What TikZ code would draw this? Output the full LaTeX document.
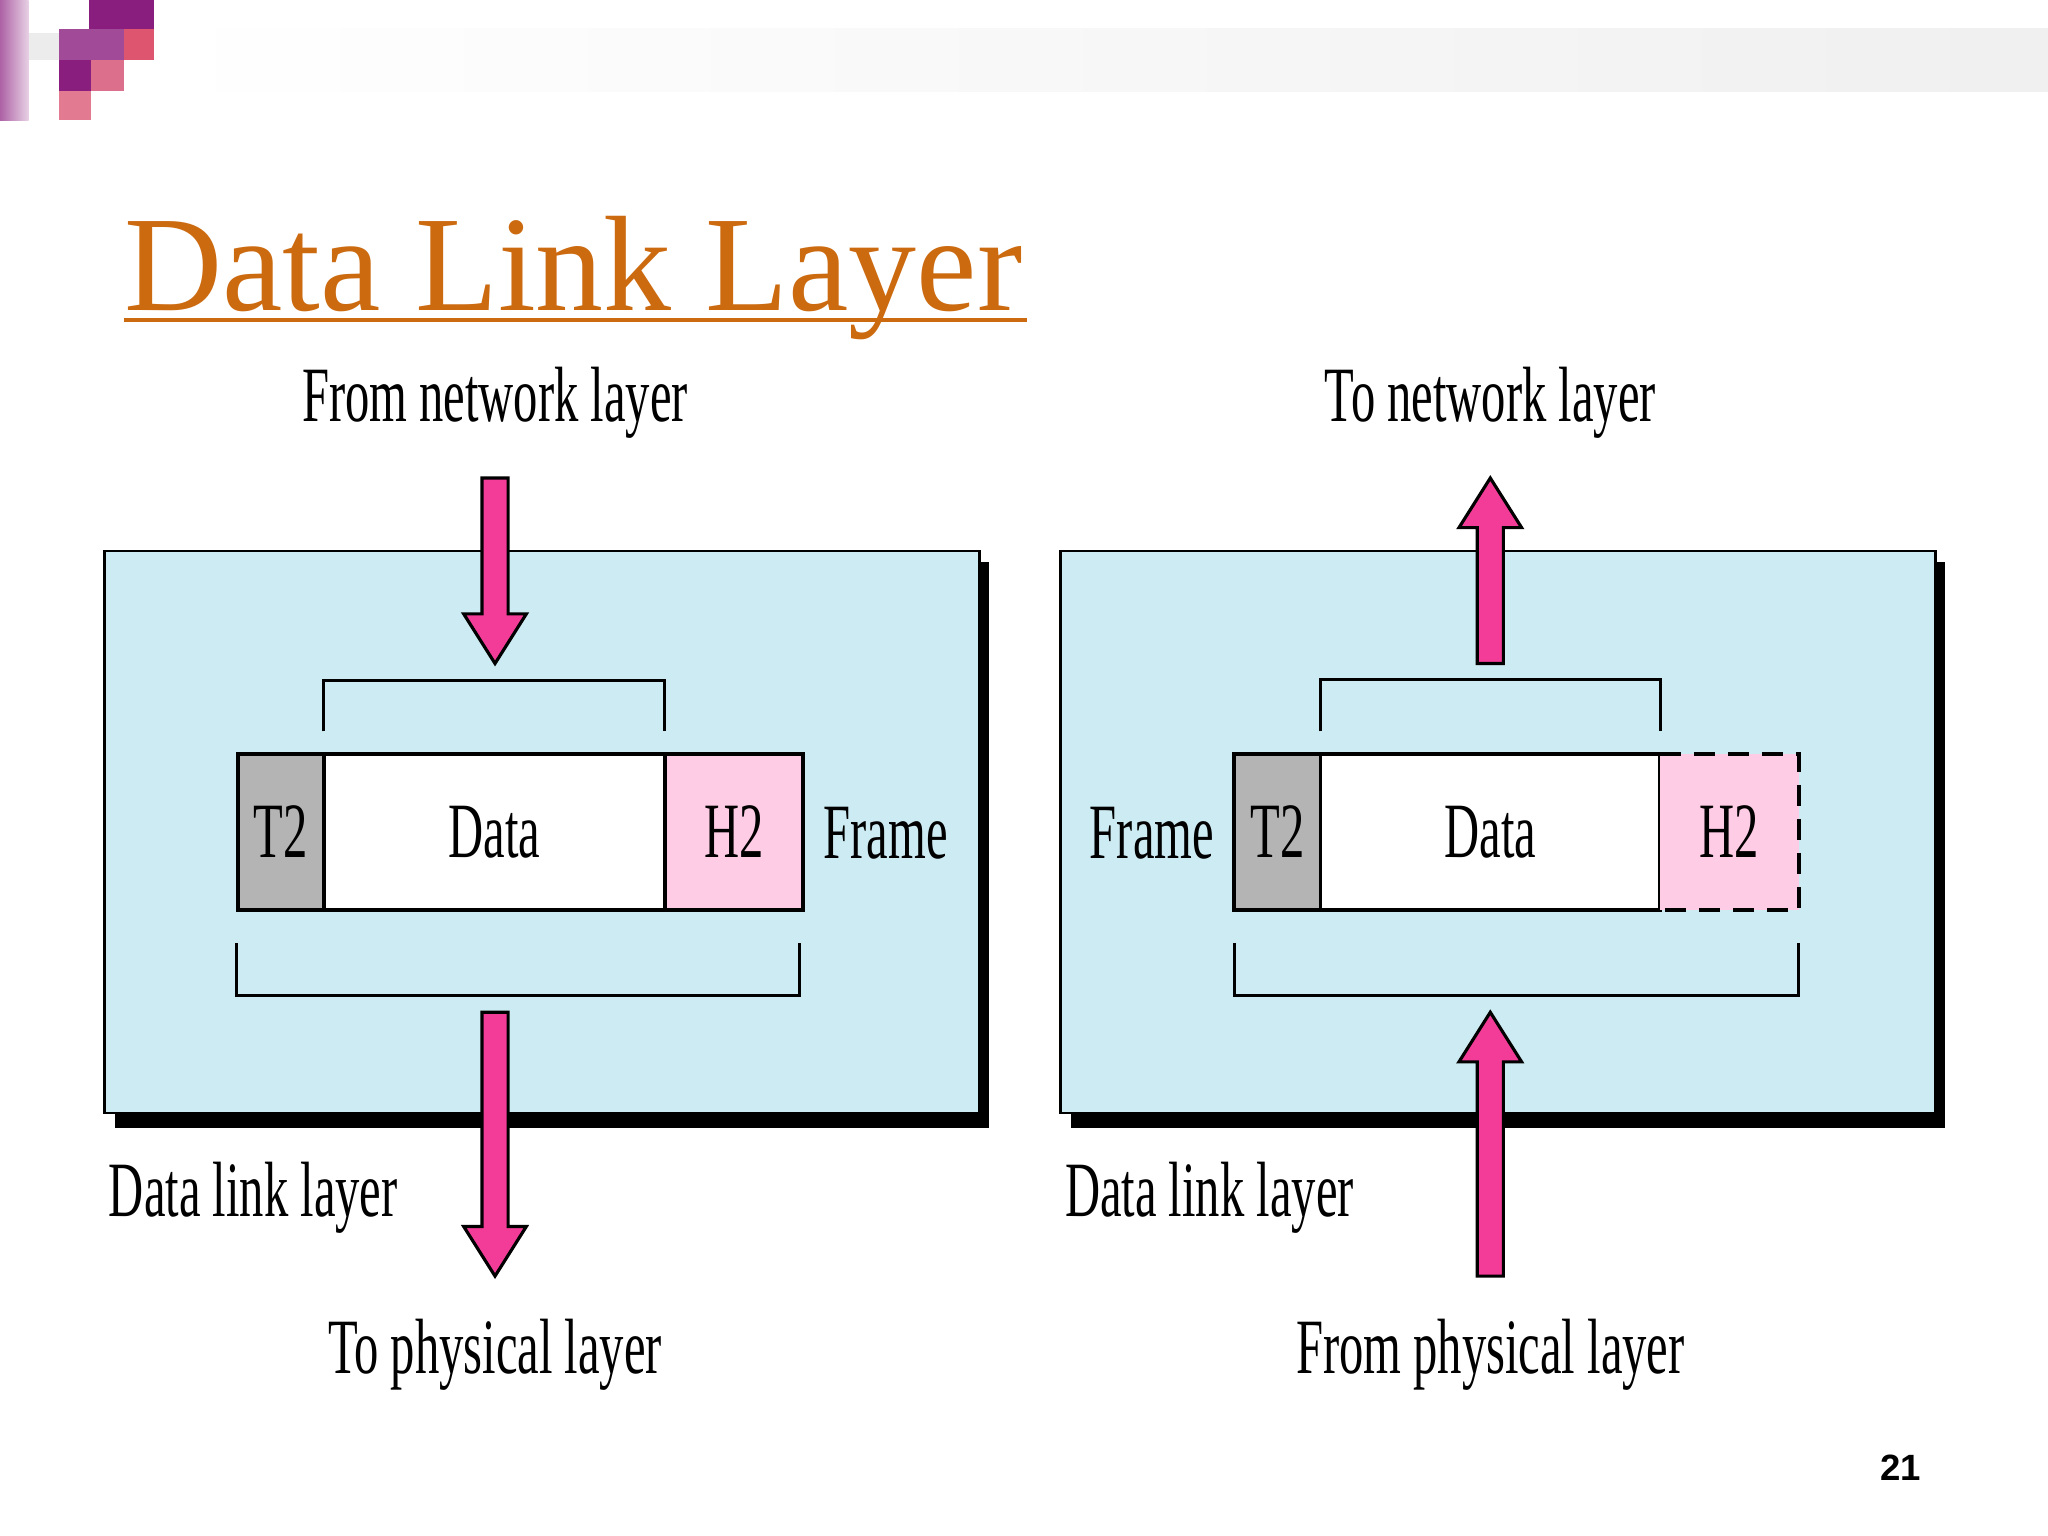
\documentclass[tikz,border=0pt]{standalone}
\usepackage{fontspec}
\setmainfont{Liberation Serif}
\newfontfamily\cond[FakeStretch=0.62]{Liberation Serif}
\newfontfamily\sans{Liberation Sans}
\usetikzlibrary{shadings}
\definecolor{panel}{HTML}{CDEBF2}
\definecolor{pinkb}{HTML}{FFCCE6}
\definecolor{mag}{HTML}{F23C98}
\definecolor{ttl}{HTML}{CC6A10}
\definecolor{grayb}{HTML}{B4B4B4}
\definecolor{purp}{HTML}{8A1E7E}
\begin{document}
\begin{tikzpicture}[x=0.5pt,y=-0.5pt,
  lbl/.style={font=\cond\fontsize{30}{34}\selectfont},
  box/.style={draw=black,line width=1.5pt},
  brk/.style={draw=black,line width=1.2pt},
  arr/.style={fill=mag,draw=black,line width=1.2pt,line join=miter}]
\useasboundingbox (0,0) rectangle (1568,1176);
\fill[white] (0,0) rectangle (1568,1176);
% top decoration
\shade[left color=white,right color=gray!12] (118,22) rectangle (1568,70);
\shade[left color=purp!70,right color=purp!20] (0,0) rectangle (22,92);
\fill[purp] (68,0) rectangle (118,22);
\fill[purp!80] (45,22) rectangle (95,46);
\fill[red!60!purp!70] (95,22) rectangle (118,46);
\fill[purp] (45,46) rectangle (70,70);
\fill[red!50!purp!60] (70,46) rectangle (95,70);
\fill[red!55!purp!55] (45,70) rectangle (70,92);
\fill[gray!15] (22,25) rectangle (45,46);
% title
\node[anchor=base west,text=ttl,font=\fontsize{52}{56}\selectfont,inner sep=0] (title) at (95,238) {Data Link Layer};
\draw[ttl,line width=1.3pt] (95,245) -- (786,245);
% panels
\foreach \ox/\n in {0/L,732/R}{
  \fill[black] (\ox+88,430) rectangle (\ox+757,864);
  \draw[fill=panel,line width=1pt] (\ox+80,422) rectangle (\ox+750,852);
}
% left frame
\node[box,fill=grayb,minimum width=33pt,minimum height=60pt,inner sep=0,lbl] (T2L) at (215,637) {T2};
\node[box,fill=white,minimum width=130.5pt,minimum height=60pt,inner sep=0,lbl] (DL) at (378.5,637) {Data};
\node[box,fill=pinkb,minimum width=53pt,minimum height=60pt,inner sep=0,lbl] (H2L) at (562,637) {H2};
\node[lbl] (FL) at (678,638) {Frame};
\draw[brk] (248,560) -- (248,521) -- (509,521) -- (509,560);
\draw[brk] (181,722) -- (181,762) -- (612,762) -- (612,722);
% right frame
\node[box,fill=grayb,minimum width=33pt,minimum height=60pt,inner sep=0,lbl] (T2R) at (978,637) {T2};
\node[box,fill=white,minimum width=130pt,minimum height=60pt,inner sep=0,lbl] (DR) at (1141,637) {Data};
\node[fill=pinkb,minimum width=53pt,minimum height=60pt,inner sep=0,lbl] (H2R) at (1324,637) {H2};
\draw[dashed,dash pattern=on 8pt off 5pt,line width=1.5pt] (1271,577) -- (1377,577) -- (1377,697) -- (1271,697);
\node[lbl] (FR) at (882,638) {Frame};
\draw[brk] (1011,560) -- (1011,520) -- (1271,520) -- (1271,560);
\draw[brk] (945,722) -- (945,762) -- (1377,762) -- (1377,722);
% arrows
\draw[arr] (369,366) -- (389,366) -- (389,470) -- (403,470) -- (379,508) -- (355,470) -- (369,470) -- cycle;
\draw[arr] (369,775) -- (389,775) -- (389,939) -- (403,939) -- (379,977) -- (355,939) -- (369,939) -- cycle;
\draw[arr] (1131,508) -- (1151,508) -- (1151,404) -- (1165,404) -- (1141,366) -- (1117,404) -- (1131,404) -- cycle;
\draw[arr] (1131,977) -- (1151,977) -- (1151,813) -- (1165,813) -- (1141,775) -- (1117,813) -- (1131,813) -- cycle;
% labels
\node[lbl] (fn) at (379,308) {From network layer};
\node[lbl] (tn) at (1141,308) {To network layer};
\node[lbl,anchor=west,inner sep=0] (dl1) at (83,917) {Data link layer};
\node[lbl,anchor=west,inner sep=0] (dl2) at (815,917) {Data link layer};
\node[lbl] (tp) at (379,1037) {To physical layer};
\node[lbl] (fp) at (1141,1037) {From physical layer};
\node[font=\sans\bfseries\fontsize{14}{16}\selectfont] (pg) at (1455,1124) {21};
\end{tikzpicture}
\end{document}
